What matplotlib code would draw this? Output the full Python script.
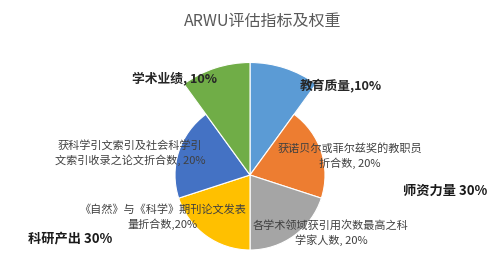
import matplotlib.pyplot as plt

plt.rcParams['font.family'] = ['Noto Sans CJK SC', 'DejaVu Sans']

title = 'ARWU评估指标及权重'
weights = [10, 20, 20, 20, 20, 10]
label_texts = ['教育质量,10%', '获诺贝尔或菲尔兹奖的教职员\n折合数, 20%', '各学术领域获引用次数最高之科\n学家人数, 20%',
               '《自然》与《科学》期刊论文发表\n量折合数,20%', '获科学引文索引及社会科学引\n文索引收录之论文折合数, 20%',
               '学术业绩, 10%']
group_labels = ['师资力量 30%', '科研产出 30%']
colors = ['#5B9BD5', '#ED7D31', '#A5A5A5', '#FFC000', '#4472C4', '#70AD47']
big = [True, False, False, False, False, True]

fig = plt.figure(figsize=(5, 2.77), dpi=100)
ax = fig.add_axes([0, 0, 1, 1])

cx, cy, r = 250, 102, 75
wedges, _ = ax.pie(weights, colors=colors, startangle=90, counterclock=False,
                   center=(cx, cy), radius=r, frame=True,
                   wedgeprops=dict(edgecolor='white', linewidth=0.8))
# the two 10% slices stick out further
for w, b in zip(wedges, big):
    if b:
        w.set_radius(r * 1.5)
ax.set_xlim(0, 500)
ax.set_ylim(0, 277)
ax.set_aspect('equal')
ax.axis('off')

ax.text(263, 277 - 21, title, ha='center', va='center', fontsize=11.5, color='#595959')

# label positions (pixels from top)
pos = [(341, 85), (350, 156), (331, 233), (163, 217), (130, 153), (175, 78)]
for i, (t, (x, y)) in enumerate(zip(label_texts, pos)):
    if big[i]:
        ax.text(x, 277 - y, t, ha='center', va='center', fontsize=9.2,
                fontweight='bold', color='#262626')
    else:
        ax.text(x, 277 - y, t, ha='center', va='center', fontsize=8,
                color='#404040', linespacing=1.45)

ax.text(445, 277 - 191, group_labels[0], ha='center', va='center', fontsize=9.5,
        fontweight='bold', color='#1a1a1a')
ax.text(70, 277 - 238, group_labels[1], ha='center', va='center', fontsize=9.5,
        fontweight='bold', color='#1a1a1a')

fig.savefig('out.png', dpi=100)
